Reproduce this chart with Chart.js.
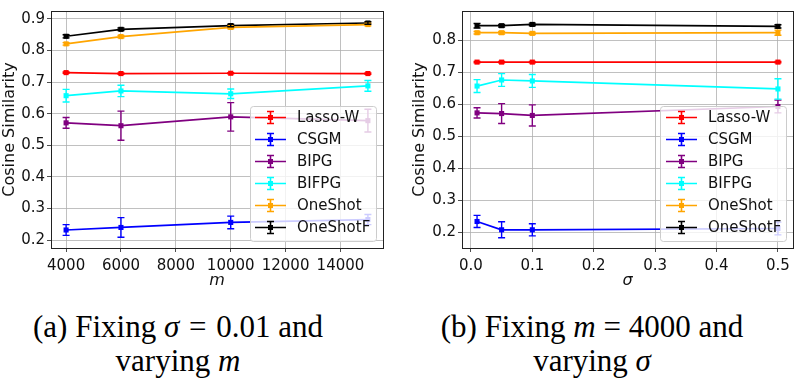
<!DOCTYPE html>
<html>
<head>
<meta charset="utf-8">
<script src="https://cdn.jsdelivr.net/npm/chart.js@4/dist/chart.umd.min.js"></script>
<style>
  body { margin: 0; background: #fff; width: 798px; height: 387px; position: relative; overflow: hidden; }
  canvas { position: absolute; top: 0; }
  .caption {
    position: absolute; text-align: center; color: #000;
    font-family: "Liberation Serif", "DejaVu Serif", serif;
    font-size: 31px; line-height: 34px; white-space: nowrap;
  }
  .caption .op { margin: 0 2px; }
</style>
</head>
<body>
<canvas id="chartM" width="400" height="300" style="left:0"></canvas>
<canvas id="chartSigma" width="398" height="300" style="left:400px"></canvas>
<div class="caption" style="left:0; width:356px; top:310px;">(a) Fixing <i>σ</i> <span class="op">=</span> 0.01 and<br>varying <i>m</i></div>
<div class="caption" style="left:392px; width:400px; top:310px;">(b) Fixing <i>m</i> = 4000 and<br>varying <i>σ</i></div>
<script>
// method order: Lasso-W, CSGM, BIPG, BIFPG, OneShot, OneShotF
const methods = ['Lasso-W', 'CSGM', 'BIPG', 'BIFPG', 'OneShot', 'OneShotF'];
const colors = ['#ff0000', '#0000ff', '#800080', '#00ffff', '#ffa500', '#000000'];

// panel (a): sigma = 0.01, varying m
const mValues = [4000, 6000, 10000, 15000];
const meansVsM = [
    [0.730, 0.727, 0.728, 0.727],
    [0.232, 0.240, 0.256, 0.265],
    [0.571, 0.562, 0.590, 0.578],
    [0.657, 0.672, 0.663, 0.688],
    [0.821, 0.844, 0.873, 0.882],
    [0.845, 0.867, 0.879, 0.887]
];
const errsVsM = [
    [0.002, 0.002, 0.002, 0.002],
    [0.017, 0.031, 0.020, 0.016],
    [0.017, 0.046, 0.045, 0.036],
    [0.020, 0.018, 0.015, 0.017],
    [0.004, 0.004, 0.004, 0.004],
    [0.005, 0.004, 0.004, 0.004]
];
const mTicks = [4000, 6000, 8000, 10000, 12000, 14000];
const yTicksM = [0.2, 0.3, 0.4, 0.5, 0.6, 0.7, 0.8, 0.9];

// panel (b): m = 4000, varying sigma
const sigmaValues = [0.01, 0.05, 0.1, 0.5];
const meansVsSigma = [
    [0.732, 0.732, 0.732, 0.732],
    [0.233, 0.207, 0.207, 0.211],
    [0.573, 0.571, 0.565, 0.593],
    [0.657, 0.676, 0.673, 0.648],
    [0.824, 0.824, 0.822, 0.824],
    [0.846, 0.846, 0.850, 0.844]
];
const errsVsSigma = [
    [0.002, 0.002, 0.002, 0.002],
    [0.019, 0.025, 0.019, 0.020],
    [0.016, 0.031, 0.033, 0.020],
    [0.020, 0.020, 0.020, 0.032],
    [0.004, 0.004, 0.004, 0.008],
    [0.007, 0.004, 0.004, 0.005]
];
const sigmaTicks = [0.0, 0.1, 0.2, 0.3, 0.4, 0.5];
const yTicksSigma = [0.2, 0.3, 0.4, 0.5, 0.6, 0.7, 0.8];

const FONT = 'DejaVu Sans';
const TICK_SIZE = 15;
const LABEL_SIZE = 16;

const errorBars = {
    id: 'errorBars',
    afterDatasetsDraw(chart) {
        const { ctx, scales: { x, y } } = chart;
        chart.data.datasets.forEach(ds => {
            ctx.save();
            ctx.strokeStyle = ds.borderColor;
            ctx.lineWidth = 1.4;
            ds.data.forEach((p, i) => {
                const e = ds.errors[i];
                const px = x.getPixelForValue(p.x);
                const top = y.getPixelForValue(p.y + e);
                const bot = y.getPixelForValue(p.y - e);
                ctx.beginPath();
                ctx.moveTo(px, top); ctx.lineTo(px, bot);
                ctx.moveTo(px - 3.5, top); ctx.lineTo(px + 3.5, top);
                ctx.moveTo(px - 3.5, bot); ctx.lineTo(px + 3.5, bot);
                ctx.stroke();
            });
            ctx.restore();
        });
    }
};

// axes box + in-plot legend (lower right, like matplotlib loc='lower right')
const frameAndLegend = {
    id: 'frameAndLegend',
    afterDraw(chart, args, opts) {
        const { ctx, chartArea: a } = chart;
        ctx.save();
        ctx.strokeStyle = '#222';
        ctx.lineWidth = 1;
        ctx.strokeRect(Math.round(a.left) + 0.5, Math.round(a.top) + 0.5,
            Math.round(a.right - a.left), Math.round(a.bottom - a.top));

        const w = opts.width, h = 135, inset = 7;
        const bx = a.right - inset - w, by = a.bottom - inset - h;
        ctx.fillStyle = 'rgba(255,255,255,0.8)';
        ctx.strokeStyle = '#cccccc';
        ctx.beginPath();
        ctx.roundRect(bx + 0.5, by + 0.5, w, h, 3);
        ctx.fill();
        ctx.stroke();

        ctx.font = TICK_SIZE + 'px "' + FONT + '"';
        ctx.textBaseline = 'middle';
        chart.data.datasets.forEach((ds, i) => {
            const ry = by + 11.5 + i * 22;
            const x0 = bx + opts.handleX, x1 = x0 + 31, xm = (x0 + x1) / 2;
            ctx.strokeStyle = ds.borderColor;
            ctx.lineWidth = 1.6;
            ctx.beginPath();
            ctx.moveTo(x0, ry); ctx.lineTo(x1, ry);
            ctx.moveTo(xm, ry - 6); ctx.lineTo(xm, ry + 6);
            ctx.moveTo(xm - 3.5, ry - 6); ctx.lineTo(xm + 3.5, ry - 6);
            ctx.moveTo(xm - 3.5, ry + 6); ctx.lineTo(xm + 3.5, ry + 6);
            ctx.stroke();
            ctx.fillStyle = ds.borderColor;
            ctx.fillRect(xm - 2.5, ry - 2.5, 5, 5);
            ctx.fillStyle = '#111';
            ctx.fillText(ds.label, bx + opts.textX, ry + 1);
        });
        ctx.restore();
    }
};

function makeChart(id, xValues, means, errs, cfg) {
    const datasets = methods.map((name, i) => ({
        label: name,
        data: xValues.map((xv, j) => ({ x: xv, y: means[i][j] })),
        errors: errs[i],
        borderColor: colors[i],
        backgroundColor: colors[i],
        borderWidth: 1.7,
        pointStyle: 'rect',
        pointRadius: 3.6,
        pointBorderWidth: 0,
        tension: 0
    }));

    const tickFont = { family: FONT, size: TICK_SIZE };
    return new Chart(document.getElementById(id), {
        type: 'line',
        data: { datasets },
        plugins: [errorBars, frameAndLegend],
        options: {
            responsive: false,
            animation: false,
            devicePixelRatio: 1,
            layout: { padding: { top: 1, right: cfg.padRight, left: 0, bottom: 0 } },
            plugins: {
                legend: { display: false },
                tooltip: { enabled: false },
                frameAndLegend: { width: 126, handleX: cfg.handleX, textX: cfg.textX }
            },
            scales: {
                x: {
                    type: 'linear',
                    min: cfg.xMin,
                    max: cfg.xMax,
                    afterBuildTicks: s => { s.ticks = cfg.xTicks.map(v => ({ value: v })); },
                    afterFit: s => { s.height = 52; },
                    grid: { color: '#b0b0b0', lineWidth: 0.8, tickColor: '#222', tickLength: 4 },
                    border: { display: false },
                    ticks: { font: tickFont, color: '#111', padding: 5, maxRotation: 0, callback: cfg.xFormat },
                    title: {
                        display: true, text: cfg.xTitle, color: '#111',
                        font: { family: FONT, size: LABEL_SIZE, style: 'italic' },
                        padding: { top: 0, bottom: 10 }
                    }
                },
                y: {
                    min: cfg.yMin,
                    max: cfg.yMax,
                    afterBuildTicks: s => { s.ticks = cfg.yTicks.map(v => ({ value: v })); },
                    afterFit: s => { s.width = cfg.yWidth; },
                    grid: { color: '#b0b0b0', lineWidth: 0.8, tickColor: '#222', tickLength: 4 },
                    border: { display: false },
                    ticks: { font: tickFont, color: '#111', padding: 2, callback: v => v.toFixed(1) },
                    title: {
                        display: true, text: 'Cosine Similarity', color: '#111',
                        font: { family: FONT, size: LABEL_SIZE },
                        padding: { top: cfg.yTitlePad, bottom: 0 }
                    }
                }
            }
        }
    });
}

makeChart('chartM', mValues, meansVsM, errsVsM, {
    xMin: 3450, xMax: 15550, xTicks: mTicks, xFormat: v => String(v), xTitle: 'm',
    yMin: 0.175, yMax: 0.925, yTicks: yTicksM,
    yWidth: 51, padRight: 17, yTitlePad: 0, handleX: 5, textX: 47
});

makeChart('chartSigma', sigmaValues, meansVsSigma, errsVsSigma, {
    xMin: -0.0145, xMax: 0.5245, xTicks: sigmaTicks, xFormat: v => v.toFixed(1), xTitle: 'σ',
    yMin: 0.15, yMax: 0.892, yTicks: yTicksSigma,
    yWidth: 62, padRight: 5, yTitlePad: 10, handleX: 6, textX: 48
});
</script>
</body>
</html>
